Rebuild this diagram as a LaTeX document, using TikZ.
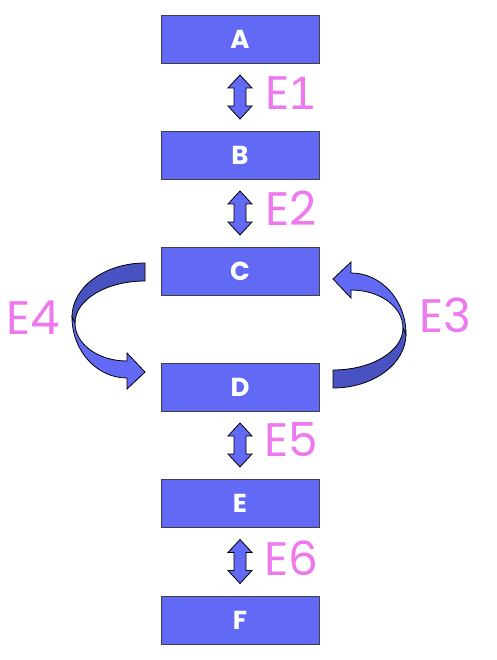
\documentclass[tikz,border=0pt]{standalone}
\usepackage{fontspec}
\setmainfont{Poppins}
\newfontfamily\onefont{Liberation Sans}
\usetikzlibrary{calc}
\definecolor{boxblue}{RGB}{98,106,245}
\definecolor{darkband}{RGB}{72,82,192}
\definecolor{lblpink}{RGB}{238,120,238}
\newcommand\dblarrow[2]{%
  \path ($(#1.south)!0.5!(#2.north)$) coordinate (m#1#2);
  \draw[dblarr] ($(m#1#2)+(0,-22)$) -- ++(12,13) -- ++(-6,0) -- ++(0,18) -- ++(6,0)
     -- ++(-12,13) -- ++(-12,-13) -- ++(6,0) -- ++(0,-18) -- ++(-6,0) -- cycle;}
\begin{document}
\begin{tikzpicture}[x=1pt,y=-1pt,
  stepbox/.style={draw=black!75,line width=0.8pt,fill=boxblue,minimum width=158pt,minimum height=48pt,inner sep=0pt,text=white,font=\bfseries\fontsize{26}{26}\selectfont},
  dblarr/.style={draw=black,line width=0.8pt,fill=boxblue,line join=miter},
  elabel/.style={text=lblpink,font=\fontsize{47}{47}\selectfont,inner sep=0pt},
  band/.style={draw=black,line width=0.8pt,line join=miter}]
\useasboundingbox (0,0) rectangle (496,660);
\node[stepbox] (A) at (240,39) {A};
\node[stepbox] (B) at (240,155) {B};
\node[stepbox] (C) at (240,271) {C};
\node[stepbox] (D) at (240,387) {D};
\node[stepbox] (E) at (240,503) {E};
\node[stepbox] (F) at (240,620) {F};
\dblarrow{A}{B}
\dblarrow{B}{C}
\dblarrow{D}{E}
\dblarrow{E}{F}
\node[elabel] (e1) at ($(mAB)+(51,-4)$) {E{\onefont 1}};
\node[elabel] (e2) at ($(mBC)+(51,-5)$) {E2};
\node[elabel] (e5) at ($(mDE)+(51,-5)$) {E5};
\node[elabel] (e6) at ($(mEF)+(51,-3)$) {E6};
\node[elabel] (e3) at (445,315) {E3};
\node[elabel] (e4) at (33,318) {E4};
% left curved arrow (C to D)
\begin{scope}
\draw[band,fill=darkband] (145,263) .. controls (105,263) and (72,287) .. (72,317)
   -- (75,323) .. controls (75,300) and (106,281) .. (145,281) -- cycle;
\draw[band,fill=boxblue] (72,317) .. controls (72,351) and (97,378) .. (127,378)
   -- (127,389) -- (145,372) -- (127,353) -- (127,361)
   .. controls (98,361) and (75,344) .. (75,323) -- cycle;
\end{scope}
% right curved arrow (D to C)
\begin{scope}[rotate around={180:(239,325.5)}]
\draw[band,fill=darkband] (145,263) .. controls (105,263) and (72,287) .. (72,317)
   -- (75,323) .. controls (75,300) and (106,281) .. (145,281) -- cycle;
\draw[band,fill=boxblue] (72,317) .. controls (72,351) and (97,378) .. (127,378)
   -- (127,389) -- (145,372) -- (127,353) -- (127,361)
   .. controls (98,361) and (75,344) .. (75,323) -- cycle;
\end{scope}
\end{tikzpicture}
\end{document}
